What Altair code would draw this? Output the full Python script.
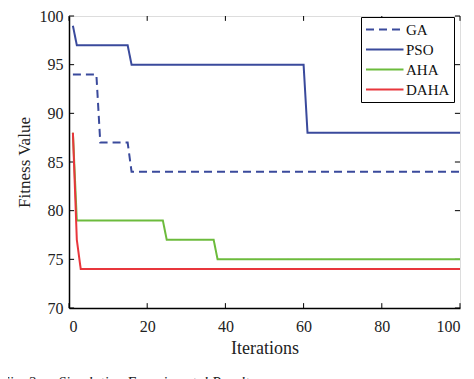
import altair as alt
import pandas as pd

series = ["GA", "PSO", "AHA", "DAHA"]
colors = ["#3a4a9c", "#3a4a9c", "#6cbb3c", "#e8363c"]
dashes = [[8, 5], [1, 0], [1, 0], [1, 0]]

ga_x = [1, 7, 8, 15, 16, 100]
ga_y = [94, 94, 87, 87, 84, 84]
pso_x = [1, 2, 15, 16, 60, 61, 100]
pso_y = [99, 97, 97, 95, 95, 88, 88]
aha_x = [1, 2, 24, 25, 37, 38, 100]
aha_y = [88, 79, 79, 77, 77, 75, 75]
daha_x = [1, 2, 3, 100]
daha_y = [88, 77, 74, 74]

x_ticks = [0, 20, 40, 60, 80, 100]
y_ticks = [70, 75, 80, 85, 90, 95, 100]

rows = []
for name, xs, ys in [("GA", ga_x, ga_y), ("PSO", pso_x, pso_y),
                     ("AHA", aha_x, aha_y), ("DAHA", daha_x, daha_y)]:
    for i, (a, b) in enumerate(zip(xs, ys)):
        rows.append({"series": name, "it": a, "val": b, "o": i})
df = pd.DataFrame(rows)

FONT = "Liberation Serif, Times New Roman, serif"

xscale = alt.Scale(domain=[0, 100], nice=False, zero=False)
yscale = alt.Scale(domain=[70, 100], nice=False, zero=False)

xaxis = alt.Axis(values=x_ticks, title="Iterations", grid=False, ticks=False, tickSize=0,
                 labelPadding=10, titlePadding=5, labelFontSize=16, titleFontSize=18,
                 labelFont=FONT, titleFont=FONT, titleFontWeight="normal",
                 labelColor="#222", titleColor="#222", domainColor="black", domainWidth=1.5)
yaxis = alt.Axis(values=y_ticks, title="Fitness Value", grid=False, ticks=False, tickSize=0,
                 labelPadding=6, titlePadding=6, labelFontSize=16, titleFontSize=17,
                 labelFont=FONT, titleFont=FONT, titleFontWeight="normal",
                 labelColor="#222", titleColor="#222", domainColor="black", domainWidth=1.5)

def legend():
    return alt.Legend(title=None, orient="none", legendX=292, legendY=1,
                      symbolType="M-1,0H4", symbolSize=225, symbolStrokeWidth=2,
                      labelFont=FONT, labelFontSize=15, labelColor="#111",
                      labelOffset=24, rowPadding=3, padding=4,
                      strokeColor="black", fillColor="white")

color = alt.Color("series:N", scale=alt.Scale(domain=series, range=colors), legend=legend())
dash = alt.StrokeDash("series:N", scale=alt.Scale(domain=series, range=dashes), legend=legend())

layers = []
for s in series:
    layers.append(
        alt.Chart(df).transform_filter(alt.datum.series == s).mark_line(strokeWidth=2).encode(
            x=alt.X("it:Q", scale=xscale, axis=xaxis),
            y=alt.Y("val:Q", scale=yscale, axis=yaxis),
            color=color, strokeDash=dash, order="o:Q")
    )

xt = pd.DataFrame({"t": x_ticks})
yt = pd.DataFrame({"t": y_ticks})
tick_bottom = alt.Chart(xt).mark_rule(color="black").encode(
    x=alt.X("t:Q", scale=xscale), y=alt.datum(70), y2=alt.datum(70.5))
tick_top = alt.Chart(xt).mark_rule(color="black").encode(
    x=alt.X("t:Q", scale=xscale), y=alt.datum(99.5), y2=alt.datum(100))
tick_left = alt.Chart(yt).mark_rule(color="black").encode(
    y=alt.Y("t:Q", scale=yscale), x=alt.datum(0), x2=alt.datum(1.3))
tick_right = alt.Chart(yt).mark_rule(color="black").encode(
    y=alt.Y("t:Q", scale=yscale), x=alt.datum(98.7), x2=alt.datum(100))

chart = alt.layer(tick_bottom, tick_top, tick_left, tick_right, *layers).properties(
    width=391, height=292,
    autosize=alt.AutoSizeParams(type="none"),
    padding={"left": 61, "top": 8, "right": 6, "bottom": 80},
    title=alt.TitleParams(
        "Fig. 2\u00a0\u00a0\u00a0\u00a0\u00a0\u00a0Simulation Experimental Results",
        orient="bottom", anchor="start", frame="group", dx=-69, offset=18,
        font=FONT, fontSize=15, fontWeight="normal", fontStyle="italic", color="#222"),
).configure_view(stroke="black", strokeWidth=1.2).configure(background="white")

chart.save("out.html", embed_options={"renderer": "svg", "actions": False})
